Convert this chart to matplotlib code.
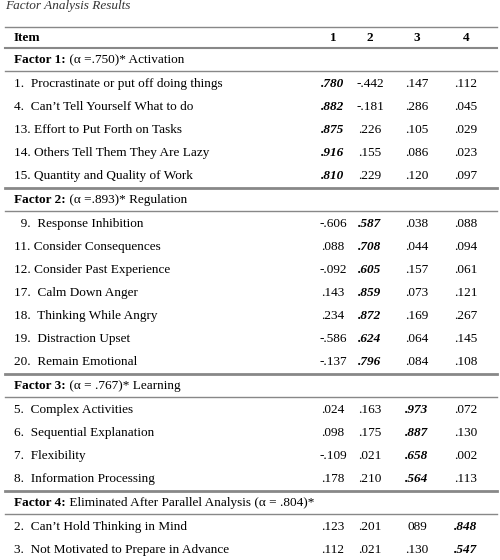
import matplotlib
matplotlib.use("Agg")
import matplotlib.pyplot as plt

title = "Factor Analysis Results"
col_labels = ["1", "2", "3", "4"]

factor_titles = [
    ("Factor 1:", " (\u03b1 =.750)* Activation"),
    ("Factor 2:", " (\u03b1 =.893)* Regulation"),
    ("Factor 3:", " (\u03b1 = .767)* Learning"),
    ("Factor 4:", " Eliminated After Parallel Analysis (\u03b1 = .804)*"),
]
items = [
    ["1.  Procrastinate or put off doing things", "4.  Can\u2019t Tell Yourself What to do",
     "13. Effort to Put Forth on Tasks", "14. Others Tell Them They Are Lazy",
     "15. Quantity and Quality of Work"],
    ["  9.  Response Inhibition", "11. Consider Consequences", "12. Consider Past Experience",
     "17.  Calm Down Anger", "18.  Thinking While Angry", "19.  Distraction Upset",
     "20.  Remain Emotional"],
    ["5.  Complex Activities", "6.  Sequential Explanation", "7.  Flexibility",
     "8.  Information Processing"],
    ["2.  Can\u2019t Hold Thinking in Mind", "3.  Not Motivated to Prepare in Advance"],
]
loadings = [
    [[".780", "-.442", ".147", ".112"], [".882", "-.181", ".286", ".045"],
     [".875", ".226", ".105", ".029"], [".916", ".155", ".086", ".023"],
     [".810", ".229", ".120", ".097"]],
    [["-.606", ".587", ".038", ".088"], [".088", ".708", ".044", ".094"],
     ["-.092", ".605", ".157", ".061"], [".143", ".859", ".073", ".121"],
     [".234", ".872", ".169", ".267"], ["-.586", ".624", ".064", ".145"],
     ["-.137", ".796", ".084", ".108"]],
    [[".024", ".163", ".973", ".072"], [".098", ".175", ".887", ".130"],
     ["-.109", ".021", ".658", ".002"], [".178", ".210", ".564", ".113"]],
    [[".123", ".201", "089", ".848"], [".112", ".021", ".130", ".547"]],
]
# column of the bold loading for each factor
main_col = [0, 1, 2, 3]

W, H = 500, 560
fig = plt.figure(figsize=(W / 100, H / 100), dpi=100)
ax = fig.add_axes([0, 0, 1, 1])
ax.set_xlim(0, W)
ax.set_ylim(H, 0)
ax.axis("off")

fam = ["Liberation Serif", "DejaVu Serif"]
fs = 9.5
col_x = [333, 370, 417, 466]
gray = "#888888"

def hline(y, lw=1.0):
    ax.plot([5, 497], [y, y], color=gray, lw=lw)

ax.text(5, 6, title, family=fam, style="italic", fontsize=fs, va="center", color="#333333")
hline(27)
ax.text(14, 38, "Item", family=fam, weight="bold", fontsize=fs, va="center")
for x, c in zip(col_x, col_labels):
    ax.text(x, 38, c, family=fam, weight="bold", fontsize=fs, va="center", ha="center")
hline(48, 1.5)

y = 60
for f, (bold_part, rest) in enumerate(factor_titles):
    t = ax.text(14, y, bold_part, family=fam, weight="bold", fontsize=fs, va="center")
    fig.canvas.draw()
    bb = t.get_window_extent()
    ax.text(14 + bb.width, y, rest, family=fam, fontsize=fs, va="center")
    hline(y + 11)
    y += 24
    for name, vals in zip(items[f], loadings[f]):
        ax.text(14, y, name, family=fam, fontsize=fs, va="center")
        for j, v in enumerate(vals):
            if j == main_col[f]:
                ax.text(col_x[j], y, v, family=fam, fontsize=fs, va="center",
                        ha="center", weight="bold", style="italic")
            else:
                ax.text(col_x[j], y, v, family=fam, fontsize=fs, va="center", ha="center")
        y += 23
    hline(y - 11, 2.0 if f < 3 else 1.0)
    y += 1

fig.savefig("out.png", dpi=100)
